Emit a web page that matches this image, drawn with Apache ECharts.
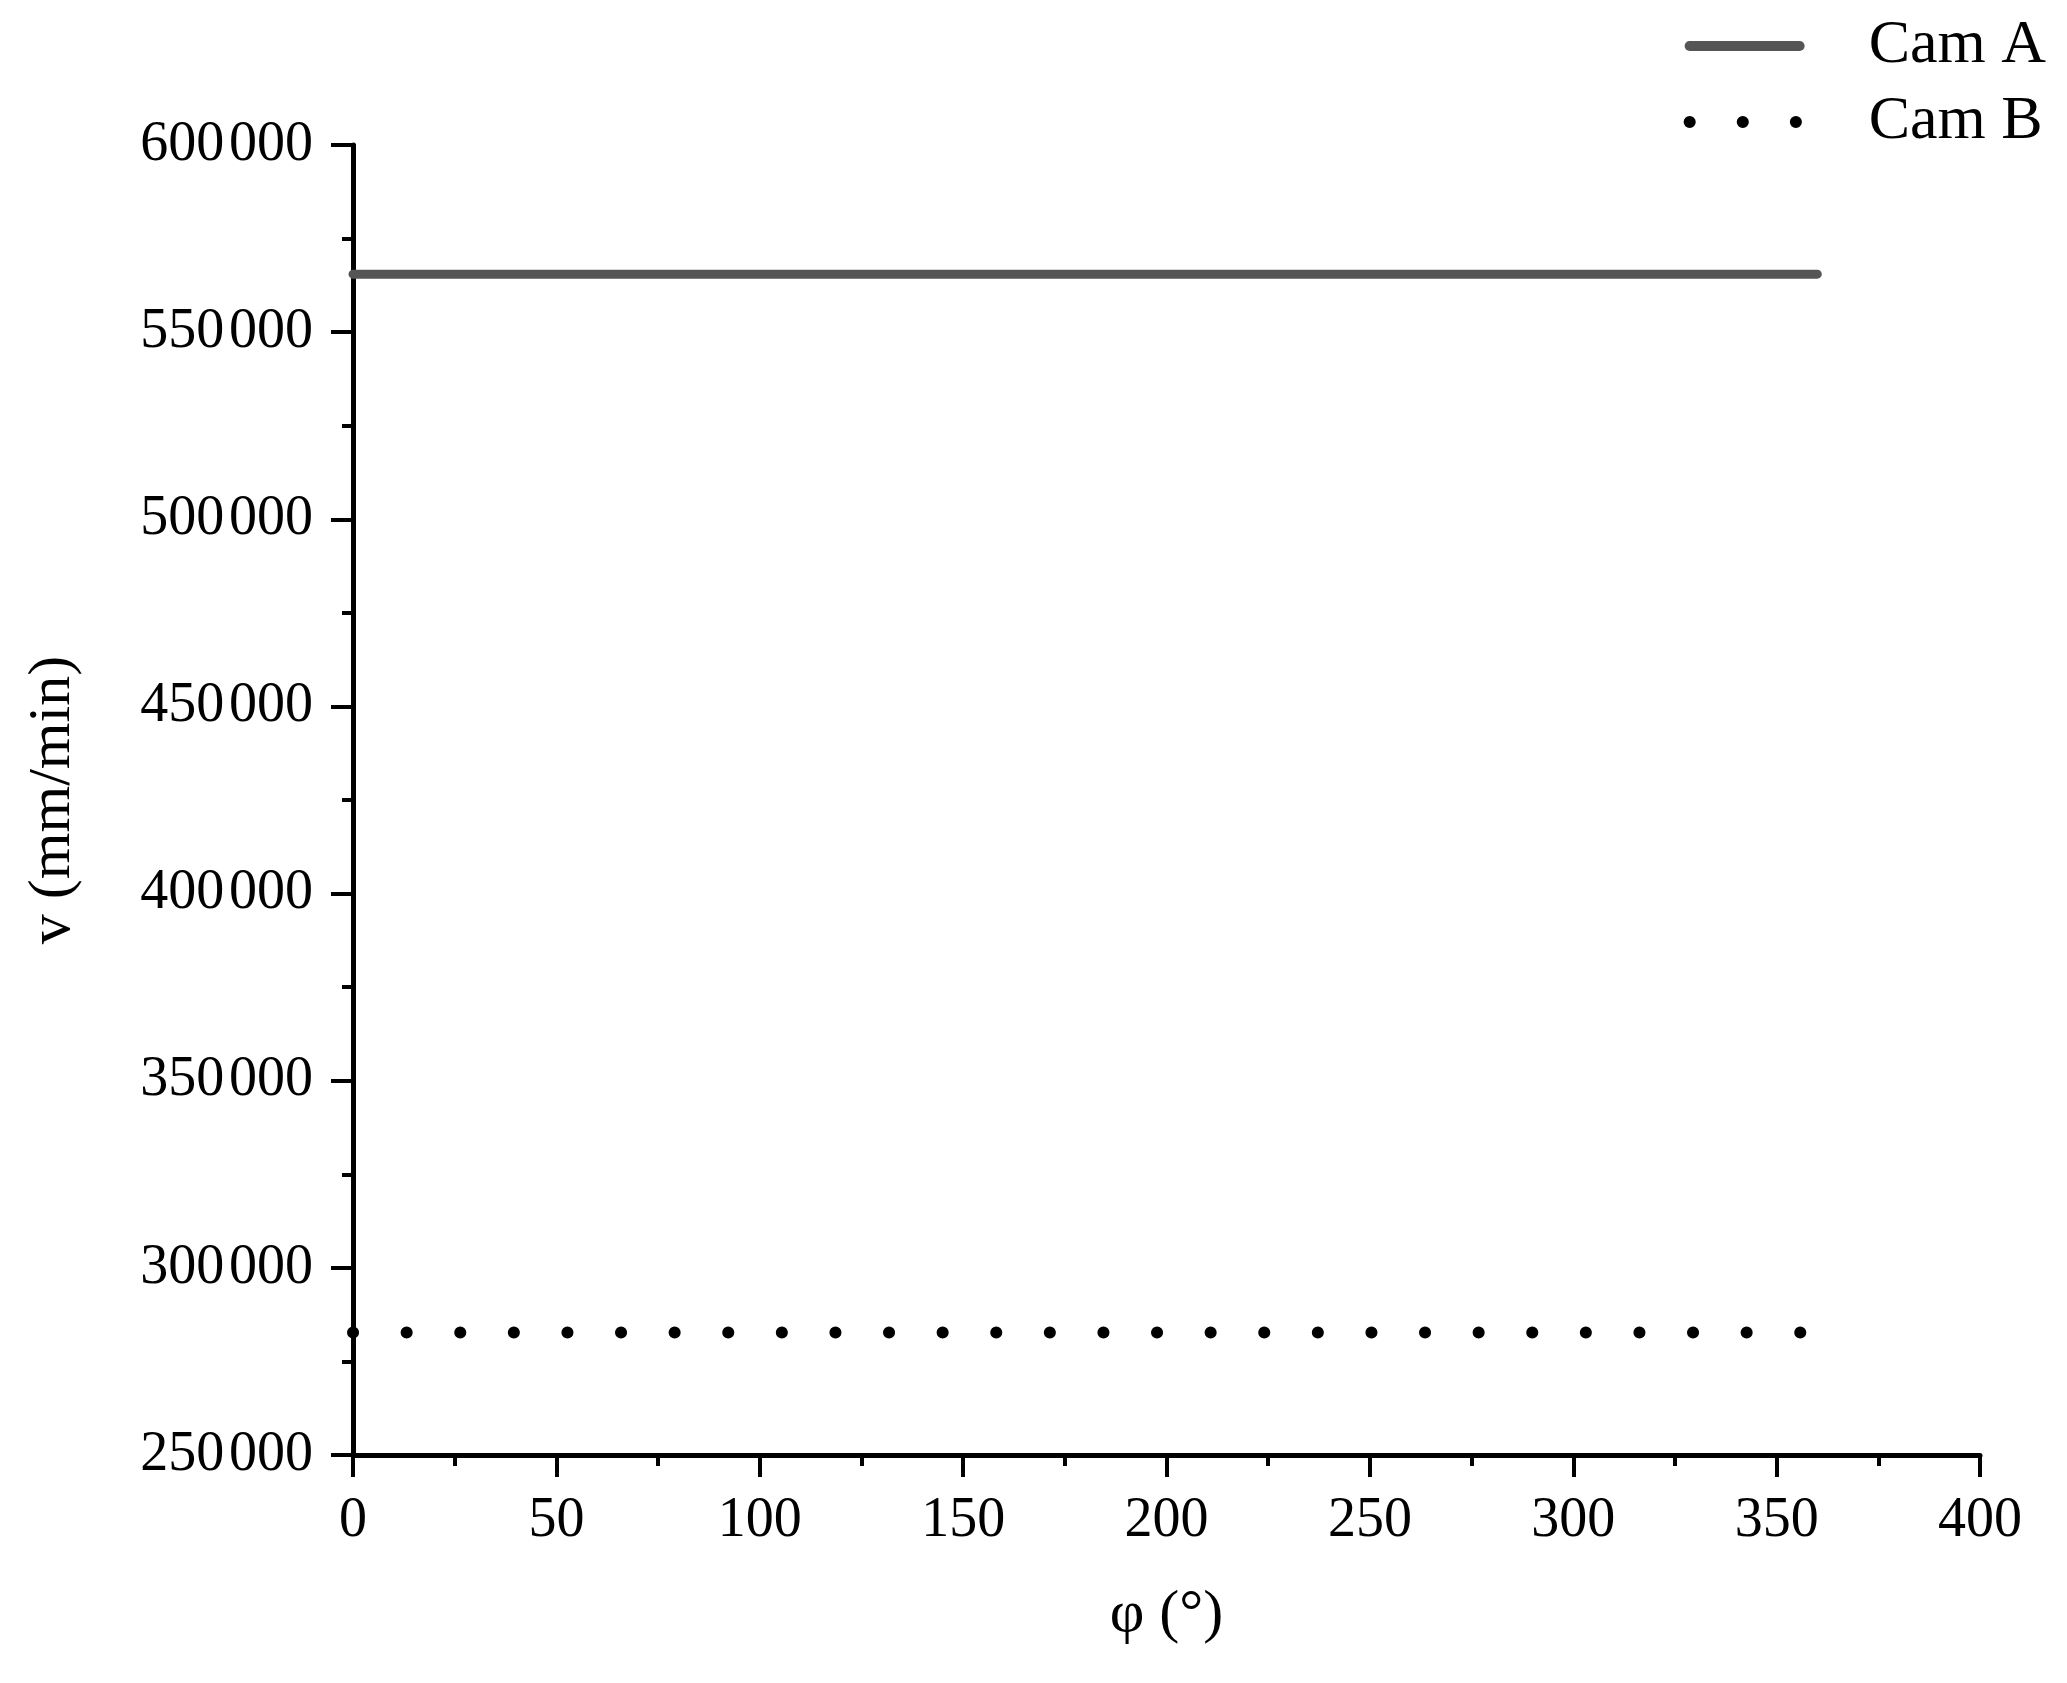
<!DOCTYPE html>
<html>
<head>
<meta charset="utf-8">
<title>Cam velocity</title>
<script src="https://cdn.jsdelivr.net/npm/echarts@6/dist/echarts.min.js"></script>
<style>
    html, body {margin: 0; padding: 0; background: #fff;}
    #chart {width: 2067px; height: 1683px;}
</style>
</head>
<body>
<div id="chart"></div>
<script>
// 数据：凸轮转角 φ(°) 与速度 v(mm/min)
const seriesNames = ['Cam A', 'Cam B'];
const phi = [0, 45, 90, 135, 180, 225, 270, 315, 360];
const camA = [565500, 565500, 565500, 565500, 565500, 565500, 565500, 565500, 565500];
const camB = [282750, 282750, 282750, 282750, 282750, 282750, 282750, 282750, 282750];
const xTicks = [0, 50, 100, 150, 200, 250, 300, 350, 400];
const yTicks = [250000, 300000, 350000, 400000, 450000, 500000, 550000, 600000];

const FONT = '"Liberation Serif", "Times New Roman", serif';

const chart = echarts.init(document.getElementById('chart'));

function pairs(xs, ys) {
    return xs.map((x, i) => [x, ys[i]]);
}

// 千位之间留一点点空隙，像原图那样
function fmtY(v) {
    const s = String(v);
    return s.length > 3 ? s.slice(0, s.length - 3) + '\u200A' + s.slice(-3) : s;
}

const axisCommon = {
    axisLine: {show: true, lineStyle: {color: '#000', width: 5}},
    axisTick: {show: true, length: 22, lineStyle: {color: '#000', width: 4}},
    minorTick: {show: true, splitNumber: 2, length: 11, lineStyle: {color: '#000', width: 4}},
    splitLine: {show: false},
    nameTextStyle: {color: '#000', fontFamily: FONT, fontSize: 60}
};

chart.setOption({
    animation: false,
    backgroundColor: '#fff',
    grid: {left: 353, right: 87, top: 145, bottom: 228},
    legend: {
        orient: 'vertical',
        right: 16,
        top: 10,
        itemWidth: 110,
        itemHeight: 20,
        itemGap: 14,
        // 图例里只要线，不要中间那个小圆点
        itemStyle: {opacity: 0},
        textStyle: {color: '#000', fontFamily: FONT, fontSize: 62, padding: [0, 0, 0, 64]},
        data: [
            {name: seriesNames[0], lineStyle: {color: '#555', width: 10, cap: 'round', opacity: 1}},
            {name: seriesNames[1], lineStyle: {color: '#000', width: 12, type: [0.1, 53], cap: 'round', opacity: 1}}
        ]
    },
    xAxis: Object.assign({}, axisCommon, {
        type: 'value',
        min: xTicks[0],
        max: xTicks[xTicks.length - 1],
        interval: 50,
        name: 'φ (°)',
        nameLocation: 'middle',
        nameGap: 130,
        axisLabel: {color: '#000', fontFamily: FONT, fontSize: 56, margin: 38}
    }),
    yAxis: Object.assign({}, axisCommon, {
        type: 'value',
        min: yTicks[0],
        max: yTicks[yTicks.length - 1],
        interval: 50000,
        name: 'v (mm/min)',
        nameLocation: 'middle',
        nameGap: 270,
        axisLabel: {color: '#000', fontFamily: FONT, fontSize: 56, margin: 40, formatter: fmtY}
    }),
    series: [
        {
            name: seriesNames[0],
            type: 'line',
            symbol: 'none',
            data: pairs(phi, camA),
            lineStyle: {color: '#555', width: 9, cap: 'round'},
            itemStyle: {color: '#555'}
        },
        {
            name: seriesNames[1],
            type: 'line',
            symbol: 'none',
            data: pairs(phi, camB),
            lineStyle: {color: '#000', width: 12, type: [0.1, 53.5], cap: 'round'},
            itemStyle: {color: '#000'}
        }
    ]
});
</script>
</body>
</html>
